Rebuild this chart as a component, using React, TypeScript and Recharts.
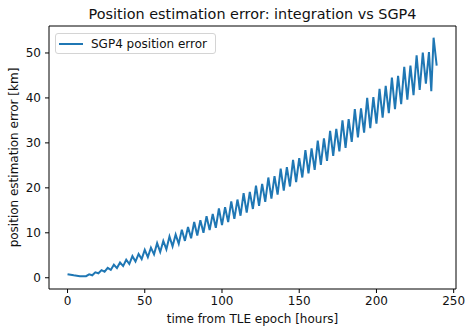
import React from "react";
import { LineChart, Line, XAxis, YAxis, ReferenceArea, Legend, Label } from "recharts";

const hours = [
  0, 2, 4, 6, 8, 10, 12, 14, 16, 18, 20, 22, 24, 26, 28, 30, 32, 34, 36, 38,
  40, 42, 44, 46, 48, 50, 52, 54, 56, 58, 60, 62, 64, 66, 68, 70, 72, 74, 76, 78,
  80, 82, 84, 86, 88, 90, 92, 94, 96, 98, 100, 102, 104, 106, 108, 110, 112, 114, 116, 118,
  120, 122, 124, 126, 128, 130, 132, 134, 136, 138, 140, 142, 144, 146, 148, 150, 152, 154, 156, 158,
  160, 162, 164, 166, 168, 170, 172, 174, 176, 178, 180, 182, 184, 186, 188, 190, 192, 194, 196, 198,
  200, 202, 204, 206, 208, 210, 212, 214, 216, 218, 220, 222, 224, 226, 228, 230, 232, 234, 235.5, 237,
  239,
];

const errorKm = [
  0.8, 0.68, 0.55, 0.45, 0.36, 0.33, 0.35, 0.75, 0.55, 1.2, 1.0, 1.7, 1.35, 2.2, 1.75, 2.9, 2.15, 3.4, 2.6, 4.0,
  3.05, 4.8, 3.6, 5.3, 4.15, 6.2, 4.6, 6.7, 5.2, 7.7, 5.75, 8.2, 6.35, 9.2, 7.0, 9.6, 7.55, 10.7, 8.2, 11.3,
  8.8, 12.4, 9.4, 12.8, 10.0, 13.7, 10.6, 14.2, 11.1, 15.4, 11.7, 15.7, 12.4, 17.0, 13.1, 17.4, 13.8, 18.8, 14.5, 19.1,
  15.3, 20.5, 16.0, 20.9, 16.9, 22.3, 17.6, 22.6, 18.5, 24.3, 19.4, 24.6, 20.3, 26.2, 21.3, 26.6, 22.3, 28.4, 23.2, 28.8,
  24.0, 30.5, 25.1, 31.0, 26.0, 32.7, 27.1, 33.1, 28.1, 35.0, 28.9, 35.3, 30.2, 37.5, 31.2, 37.7, 32.3, 40.0, 33.3, 40.2,
  34.3, 42.0, 35.6, 42.7, 36.6, 44.5, 37.5, 44.9, 38.6, 46.9, 39.6, 47.2, 40.6, 49.5, 41.8, 50.1, 43.2, 50.2, 41.5, 53.4,
  47.2,
];

const xTicks = [0, 50, 100, 150, 200, 250];
const yTicks = [0, 10, 20, 30, 40, 50];
const seriesName = "SGP4 position error";

const data = hours.map((t, i) => ({ t, err: errorKm[i] }));

const FONT = "DejaVu Sans";
const TXT = "#111";
const BLUE = "#1f77b4";

const X_DOMAIN: [number, number] = [-12, 251.5];
const Y_DOMAIN: [number, number] = [-2.5, 56];

const PLOT_CX = (49 + 456) / 2;
const PLOT_CY = (26 + 289) / 2;

function LegendBox() {
  return (
    <div
      style={{
        width: 161,
        height: 21,
        boxSizing: "border-box",
        border: "1px solid #d4d4d4",
        borderRadius: 3,
        background: "rgba(255,255,255,0.85)",
        display: "flex",
        alignItems: "center",
        paddingLeft: 3,
        fontFamily: FONT,
        fontSize: 12,
        color: TXT,
      }}
    >
      <svg width={24} height={4} style={{ display: "block" }}>
        <line x1={0} y1={2} x2={24} y2={2} stroke={BLUE} strokeWidth={2} />
      </svg>
      <span style={{ marginLeft: 8, whiteSpace: "nowrap" }}>{seriesName}</span>
    </div>
  );
}

export default function App() {
  return (
    <div style={{ position: "absolute", left: 0, top: 0, width: 474, height: 335, background: "#fff" }}>
      <LineChart
        width={474}
        height={335}
        data={data}
        margin={{ top: 26, right: 18, bottom: 0, left: 0 }}
      >
        <XAxis
          dataKey="t"
          type="number"
          domain={X_DOMAIN}
          ticks={xTicks}
          allowDataOverflow
          height={46}
          axisLine={false}
          tickSize={4}
          tickMargin={3}
          tickLine={{ stroke: "#000", strokeWidth: 1 }}
          tick={{ fontFamily: FONT, fontSize: 12, fill: TXT }}
        >
          <Label
            content={() => (
              <g>
                <text
                  x={PLOT_CX}
                  y={319}
                  textAnchor="middle"
                  dominantBaseline="central"
                  fontFamily={FONT}
                  fontSize={12}
                  fill={TXT}
                >
                  time from TLE epoch [hours]
                </text>
                <text
                  x={PLOT_CX}
                  y={13.5}
                  textAnchor="middle"
                  dominantBaseline="central"
                  fontFamily={FONT}
                  fontSize={14.4}
                  fill={TXT}
                >
                  Position estimation error: integration vs SGP4
                </text>
              </g>
            )}
          />
        </XAxis>
        <YAxis
          type="number"
          domain={Y_DOMAIN}
          ticks={yTicks}
          allowDataOverflow
          width={49}
          axisLine={false}
          tickSize={4}
          tickMargin={4}
          tickLine={{ stroke: "#000", strokeWidth: 1 }}
          tick={{ fontFamily: FONT, fontSize: 12, fill: TXT }}
        >
          <Label
            content={() => (
              <text
                x={14}
                y={PLOT_CY}
                transform={`rotate(-90 14 ${PLOT_CY})`}
                textAnchor="middle"
                dominantBaseline="central"
                fontFamily={FONT}
                fontSize={12}
                fill={TXT}
              >
                position estimation error [km]
              </text>
            )}
          />
        </YAxis>
        <Legend
          layout="horizontal"
          verticalAlign="middle"
          align="center"
          wrapperStyle={{ left: 55, top: 33, width: 161, height: 21 }}
          content={() => <LegendBox />}
        />
        <Line
          type="linear"
          dataKey="err"
          name={seriesName}
          stroke={BLUE}
          strokeWidth={2}
          dot={false}
          activeDot={false}
          isAnimationActive={false}
        />
        <ReferenceArea
          x1={X_DOMAIN[0]}
          x2={X_DOMAIN[1]}
          y1={Y_DOMAIN[0]}
          y2={Y_DOMAIN[1]}
          ifOverflow="visible"
          fill="none"
          fillOpacity={0}
          stroke="#000"
          strokeWidth={1}
        />
      </LineChart>
    </div>
  );
}
